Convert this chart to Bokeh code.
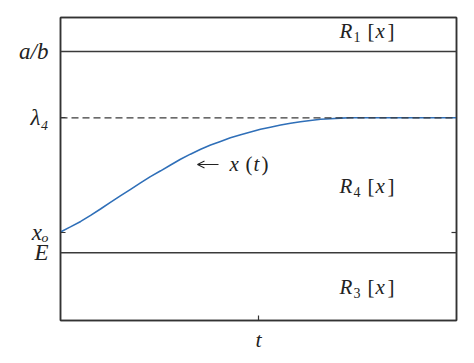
from bokeh.plotting import figure
from bokeh.models import Range1d, LinearAxis, FixedTicker, Span, Label, Arrow, OpenHead
from bokeh.embed import file_html
from bokeh.resources import INLINE

# ---- data ----
t_vals = [0.000, 0.025, 0.051, 0.076, 0.101, 0.126, 0.152, 0.177, 0.202, 0.227,
          0.253, 0.278, 0.303, 0.328, 0.354, 0.379, 0.404, 0.429, 0.455, 0.480,
          0.505, 0.530, 0.556, 0.581, 0.606, 0.631, 0.657, 0.682, 0.707, 0.732, 1.000]
x_vals = [2.92, 3.09, 3.27, 3.47, 3.68, 3.90, 4.12, 4.33, 4.54, 4.75,
          4.94, 5.13, 5.32, 5.49, 5.65, 5.79, 5.91, 6.03, 6.13, 6.22,
          6.31, 6.38, 6.45, 6.51, 6.56, 6.60, 6.64, 6.66, 6.68, 6.69, 6.69]
level_ab = 8.88
level_lambda4 = 6.69
level_x0 = 2.92
level_E = 2.24
t_tick = 0.5
left_tick_values = [level_ab, level_lambda4, level_x0, level_E]
left_tick_labels = ["a/b", "λ₄", "xₒ", "E"]
bottom_tick_labels = ["t"]
region_names = ["1", "4", "3"]
region_levels = [9.55, 4.45, 1.10]

W, H = 474, 363
L, R, T, B = 60, 18, 17, 43
XMIN, XMAX, YMIN, YMAX = 0.0, 1.0, 0.0, 10.0

p = figure(width=W, height=H, output_backend="svg", toolbar_location=None,
           x_range=Range1d(XMIN, XMAX), y_range=Range1d(YMIN, YMAX),
           min_border_left=L, min_border_right=R, min_border_top=T, min_border_bottom=B,
           x_axis_location=None, y_axis_location=None)
p.grid.visible = False
p.outline_line_color = "#333333"
p.outline_line_width = 1.5
p.background_fill_color = "white"
p.border_fill_color = "white"

AX = "#333333"
FONT = "Liberation Serif"
BIG = "21px"
SMALL = "14px"
TXT = "#222222"


def mk_axis(ticks, labels=None, standoff=0, size=BIG):
    ax = LinearAxis(ticker=FixedTicker(ticks=ticks))
    ax.major_tick_in = 5
    ax.major_tick_out = 0
    ax.minor_tick_in = 0
    ax.minor_tick_out = 0
    ax.axis_line_color = AX
    ax.axis_line_width = 1.5
    ax.major_tick_line_color = AX
    ax.major_tick_line_width = 1.2
    if labels is None:
        ax.major_label_text_font_size = "1px"
        ax.major_label_text_alpha = 0
        ax.major_label_standoff = 0
    else:
        ax.major_label_overrides = {v: s for v, s in zip(ticks, labels)}
        ax.major_label_text_font = FONT
        ax.major_label_text_font_style = "italic"
        ax.major_label_text_font_size = size
        ax.major_label_text_color = TXT
        ax.major_label_standoff = standoff
    return ax


p.add_layout(mk_axis(left_tick_values, left_tick_labels, standoff=12, size="23px"), "left")
p.add_layout(mk_axis([level_x0]), "right")
p.add_layout(mk_axis([t_tick], bottom_tick_labels, standoff=6, size="22px"), "below")
p.add_layout(mk_axis([]), "above")

# horizontal level lines
p.add_layout(Span(location=level_ab, dimension="width", line_color="#3a3a3a", line_width=1.5))
p.add_layout(Span(location=level_E, dimension="width", line_color="#3a3a3a", line_width=1.5))
p.add_layout(Span(location=level_lambda4, dimension="width", line_color="#3a3a3a",
                  line_width=1.3, line_dash="7 4"))

# trajectory
p.line(t_vals, x_vals, line_color="#2f6fb8", line_width=1.6)


# ---- in-frame labels ----
def px2d(px, py):
    x = XMIN + (px - L) / (W - L - R) * (XMAX - XMIN)
    y = YMIN + ((H - B) - py) / (H - B - T) * (YMAX - YMIN)
    return x, y


def lab(text, px, py, align="left", size=BIG, italic=True):
    x, y = px2d(px, py)
    p.add_layout(Label(x=x, y=y, text=text, text_font=FONT, text_font_size=size,
                       text_font_style="italic" if italic else "normal",
                       text_align=align, text_baseline="middle", text_color=TXT))


def lab_d(text, x, y, dx=0, dy=0, size=BIG, italic=True):
    p.add_layout(Label(x=x, y=y, x_offset=dx, y_offset=dy, text=text, text_font=FONT,
                       text_font_size=size, text_font_style="italic" if italic else "normal",
                       text_align="left", text_baseline="middle", text_color=TXT))


rx, _ = px2d(339, 0)
for sub, lev in zip(region_names, region_levels):
    lab_d("R", rx, lev)
    lab_d(sub, rx, lev, dx=14, dy=-6, size=SMALL, italic=False)
    lab_d("[", rx, lev, dx=28, italic=False)
    lab_d("x", rx, lev, dx=36)
    lab_d("]", rx, lev, dx=48, italic=False)

# curve label: arrow + x(t)
ax0, ay = px2d(218, 164)
ax1, _ = px2d(197, 164)
p.add_layout(Arrow(x_start=ax0, y_start=ay, x_end=ax1, y_end=ay,
                   line_color=TXT, line_width=1.1,
                   end=OpenHead(size=7, line_color=TXT, line_width=1.1)))
lab("x", 229, 163)
lab("(", 245, 163, italic=False)
lab("t", 253, 163)
lab(")", 261, 163, italic=False)

open("out.html", "w").write(file_html(p, INLINE))
